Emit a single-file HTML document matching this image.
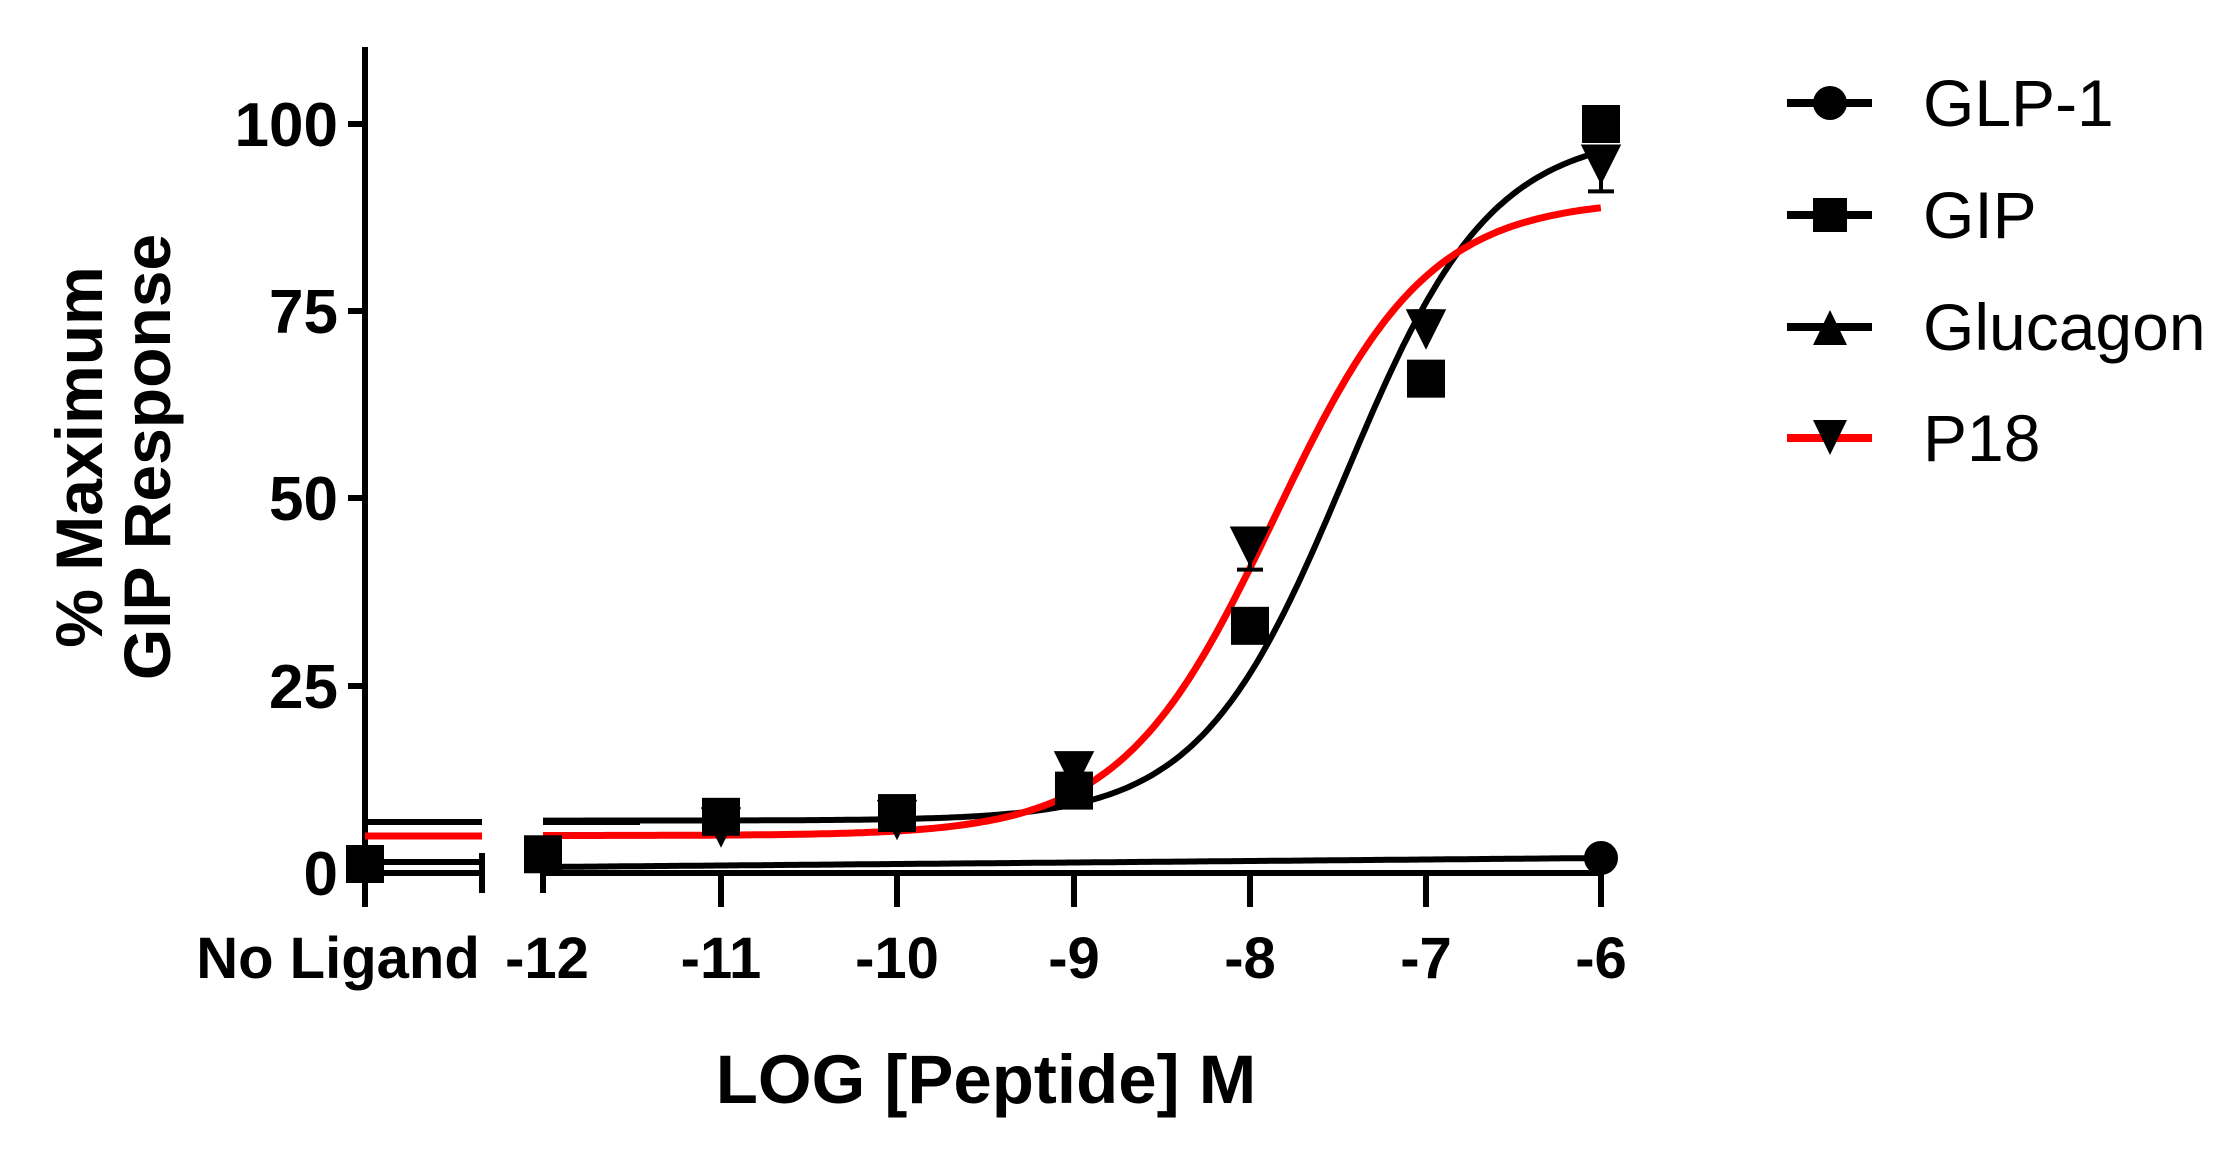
<!DOCTYPE html>
<html><head><meta charset="utf-8"><style>
html,body{margin:0;padding:0;background:#fff;}
svg{display:block;font-family:"Liberation Sans",Arial,sans-serif;}
</style></head><body>
<svg id="s" width="2240" height="1150" viewBox="0 0 2240 1150" xmlns="http://www.w3.org/2000/svg">
<g stroke="#000" stroke-width="6" fill="none">
<line x1="365" y1="47" x2="365" y2="907"/>
<line x1="348" y1="124" x2="365" y2="124"/>
<line x1="348" y1="311" x2="365" y2="311"/>
<line x1="348" y1="498" x2="365" y2="498"/>
<line x1="348" y1="686" x2="365" y2="686"/>
<line x1="348" y1="873" x2="365" y2="873"/>
<line x1="482" y1="853" x2="482" y2="893"/>
<line x1="543" y1="873" x2="543" y2="893"/>
<line x1="721" y1="873" x2="721" y2="907"/>
<line x1="897" y1="873" x2="897" y2="907"/>
<line x1="1074" y1="873" x2="1074" y2="907"/>
<line x1="1250" y1="873" x2="1250" y2="907"/>
<line x1="1426" y1="873" x2="1426" y2="907"/>
<line x1="1601" y1="873" x2="1601" y2="907"/>
<line x1="365" y1="822" x2="482" y2="822"/>
<line x1="365" y1="862" x2="482" y2="862"/>
<line x1="365" y1="873" x2="482" y2="873"/>
<line x1="543" y1="822" x2="640" y2="822"/>
<line x1="543" y1="873" x2="1601" y2="873"/>
</g>
<line x1="365" y1="836" x2="482" y2="836" stroke="#f00" stroke-width="7"/>
<g id="curves" fill="none"></g>
<g id="pts" fill="#000" stroke="#000" stroke-width="4"></g>
<g font-weight="bold" font-size="62" text-anchor="end" fill="#000">
<text x="338" y="146">100</text>
<text x="338" y="333">75</text>
<text x="338" y="520">50</text>
<text x="338" y="708">25</text>
<text x="338" y="895">0</text>
</g>
<g font-weight="bold" font-size="58" text-anchor="middle" fill="#000">
<text x="338" y="978">No Ligand</text>
<text x="547" y="978">-12</text>
<text x="721" y="978">-11</text>
<text x="897" y="978">-10</text>
<text x="1074" y="978">-9</text>
<text x="1250" y="978">-8</text>
<text x="1426" y="978">-7</text>
<text x="1601" y="978">-6</text>
</g>
<text x="986" y="1103" font-weight="bold" font-size="69" text-anchor="middle">LOG [Peptide] M</text>
<g font-weight="bold" font-size="66" text-anchor="middle" transform="rotate(-90)">
<text x="-457" y="102">% Maximum</text>
<text x="-457" y="170">GIP Response</text>
</g>
<g stroke-width="8">
<line x1="1787" y1="103" x2="1872" y2="103" stroke="#000"/>
<line x1="1787" y1="215" x2="1872" y2="215" stroke="#000"/>
<line x1="1787" y1="327" x2="1872" y2="327" stroke="#000"/>
<line x1="1787" y1="438" x2="1872" y2="438" stroke="#f00"/>
</g>
<circle cx="1830" cy="103" r="17" fill="#000"/>
<rect x="1813" y="198" width="34" height="34" fill="#000"/>
<polygon points="1830,310 1847,345 1813,345" fill="#000"/>
<polygon points="1813,420 1847,420 1830,455" fill="#000"/>
<g font-size="66" fill="#000">
<text x="1923" y="126">GLP-1</text>
<text x="1923" y="238">GIP</text>
<text x="1923" y="350">Glucagon</text>
<text x="1923" y="461">P18</text>
</g>
</svg>
<script>
var X=function(l){return 543+(l+12)*176.3;},Y=function(v){return 873-v*7.49;};
var ns="http://www.w3.org/2000/svg";
function path(f,col,w){var d="";for(var l=-12;l<=-6.0001;l+=0.02){d+=(d?"L":"M")+X(l).toFixed(1)+","+Y(f(l)).toFixed(1);}d+="L"+X(-6)+","+Y(f(-6)).toFixed(1);
var p=document.createElementNS(ns,"path");p.setAttribute("d",d);p.setAttribute("stroke",col);p.setAttribute("stroke-width",w);document.getElementById("curves").appendChild(p);}
path(function(l){return 0.8+1.2*(l+12)/6;},"#000",6);
path(function(l){return 7+92/(1+Math.pow(10,1.05*(-7.45-l)));},"#000",6);
path(function(l){return 5+85/(1+Math.pow(10,-7.85-l));},"#f00",7);
var g=document.getElementById("pts");
function el(t,a){var e=document.createElementNS(ns,t);for(var k in a)e.setAttribute(k,a[k]);g.appendChild(e);}
function sq(x,v){el("rect",{x:x-17,y:Y(v)-17,width:34,height:34});}
function tri(x,v){var y=Y(v);el("polygon",{points:(x-17)+","+(y-15)+" "+(x+17)+","+(y-15)+" "+x+","+(y+19)});}
function eb(x,v1,v2){el("line",{x1:x,y1:Y(v1),x2:x,y2:Y(v2)});el("line",{x1:x-13,y1:Y(v2),x2:x+13,y2:Y(v2)});}
eb(1250,44,40.5);eb(1426,73,75);eb(1601,95,91);eb(1426,66,68);
sq(365,1.2);sq(543,2.5);sq(721,7.5);sq(897,8);sq(1074,11);sq(1250,33);sq(1426,66);sq(1601,100);
tri(721,6.5);tri(897,7.5);tri(1074,14);tri(1250,44);tri(1426,73);tri(1601,95);
el("circle",{cx:1601,cy:Y(2),r:15});
</script>
</body></html>
